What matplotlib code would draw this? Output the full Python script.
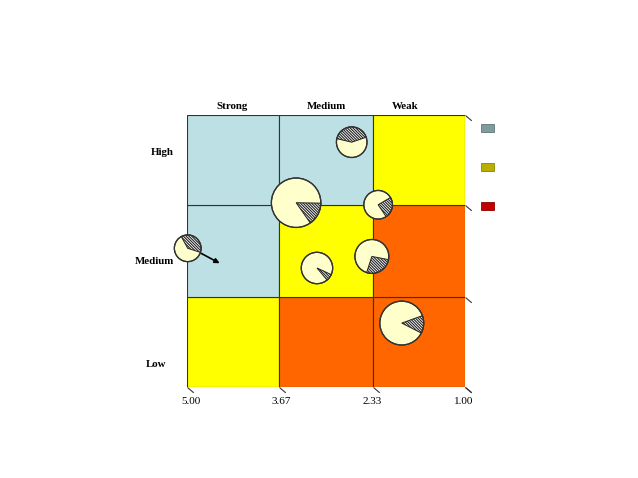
import matplotlib
matplotlib.use("Agg")
import matplotlib.pyplot as plt
from matplotlib.patches import Rectangle, Wedge, Circle
from matplotlib.path import Path
from matplotlib.transforms import Affine2D, ScaledTranslation

# --- Data -------------------------------------------------------------------
col_edges = [5.00, 3.67, 2.33, 1.00]          # business strength
row_edges = [1.00, 2.33, 3.67, 5.00]          # industry attractiveness
col_labels = ["Strong", "Medium", "Weak"]
col_label_x = [4.35, 2.99, 1.86]
row_labels = ["Low", "Medium", "High"]
row_label_pos = [(5.44, 1.33), (5.47, 2.85), (5.36, 4.45)]
tick_labels = ["5.00", "3.67", "2.33", "1.00"]

# cell colours, rows bottom (Low) -> top (High), cols Strong -> Weak
cell_colors = [
    ["#FFFF00", "#FF6600", "#FF6600"],
    ["#BCE0E4", "#FFFF00", "#FF6600"],
    ["#BCE0E4", "#BCE0E4", "#FFFF00"],
]

# bubbles: position, radius (pt), share of hatched slice, start angle
bub_x = [2.63, 3.43, 2.25, 4.99, 3.13, 2.34, 1.91]
bub_y = [4.60, 3.71, 3.68, 3.04, 2.75, 2.92, 1.94]
bub_r = [11.0, 17.8, 10.3, 9.6, 11.3, 12.2, 15.8]
bub_share = [0.41, 0.15, 0.24, 0.38, 0.07, 0.27, 0.13]
bub_start = [19, -55, -56, -18, -50, -108, -27]

arrow_from = (4.86, 3.00)
arrow_to = (4.53, 2.82)

legend_colors = ["#7F9B9E", "#B8B000", "#C00000"]
legend_edges = ["#5F7577", "#8A8400", "#900000"]

# --- Figure -----------------------------------------------------------------
plt.rcParams["hatch.linewidth"] = 0.8
plt.rcParams["hatch.color"] = "black"

fig = plt.figure(figsize=(6.38, 4.78), dpi=100)
ax = fig.add_axes([187 / 638, 91 / 478, 278 / 638, 272 / 478])
ax.set_xlim(5, 1)
ax.set_ylim(1, 5)
ax.axis("off")

serif = "Liberation Serif"

for i in range(3):
    for j in range(3):
        x0 = col_edges[j + 1]
        w = col_edges[j] - col_edges[j + 1]
        y0 = row_edges[i]
        h = row_edges[i + 1] - row_edges[i]
        ax.add_patch(Rectangle((x0, y0), w, h, facecolor=cell_colors[i][j],
                               edgecolor="#333333", linewidth=0.8, zorder=1))

# little slanted ticks on the bottom and right edges
tick_marker = Path([(0, 0), (1, -0.85)])
ax.plot(col_edges, [1] * 4, linestyle="none", marker=tick_marker,
        markersize=9, color="#333333", markeredgewidth=0.8, clip_on=False)
ax.plot([1] * 4, row_edges, linestyle="none", marker=tick_marker,
        markersize=9, color="#333333", markeredgewidth=0.8, clip_on=False)

for x, lab, dx in zip(col_edges, tick_labels, [-0.06, -0.02, 0.0, 0.02]):
    ax.text(x + dx, 0.78, lab, ha="center", va="center", fontsize=8,
            family=serif, clip_on=False)

for x, lab in zip(col_label_x, col_labels):
    ax.text(x, 5.13, lab, ha="center", va="center", fontsize=7.8,
            family=serif, fontweight="bold")

for (x, y), lab in zip(row_label_pos, row_labels):
    ax.text(x, y, lab, ha="center", va="center", fontsize=7.8,
            family=serif, fontweight="bold")


def draw_pie(x, y, r_pt, share, start):
    tr = (Affine2D().scale(r_pt / 72) + fig.dpi_scale_trans
          + ScaledTranslation(x, y, ax.transData))
    ax.add_patch(Circle((0, 0), 1, transform=tr, facecolor="#FFFFCC",
                        edgecolor="#333333", linewidth=0.9, zorder=3,
                        clip_on=False))
    ax.add_patch(Wedge((0, 0), 1, start, start + share * 360, transform=tr,
                       facecolor="white", edgecolor="#222222",
                       hatch="\\" * 12, linewidth=0.7, zorder=4,
                       clip_on=False))
    ax.add_patch(Circle((0, 0), 1, transform=tr, facecolor="none",
                        edgecolor="#333333", linewidth=0.9, zorder=5,
                        clip_on=False))


for x, y, r, s, a in zip(bub_x, bub_y, bub_r, bub_share, bub_start):
    draw_pie(x, y, r, s, a)

# arrow sits under the bubble so it appears to leave the pie's edge
ax.annotate("", xy=arrow_to, xytext=arrow_from,
            arrowprops=dict(arrowstyle="-|>", color="black", lw=1.2,
                            mutation_scale=7, shrinkA=0, shrinkB=0),
            zorder=2)

# legend swatches (no text)
for k, (c, ec) in enumerate(zip(legend_colors, legend_edges)):
    top = 124 + 39 * k
    fig.add_artist(Rectangle((481 / 638, (478 - top - 8) / 478), 13 / 638,
                             8 / 478, transform=fig.transFigure,
                             facecolor=c, edgecolor=ec, linewidth=0.6))

fig.savefig("out.png", dpi=100)
